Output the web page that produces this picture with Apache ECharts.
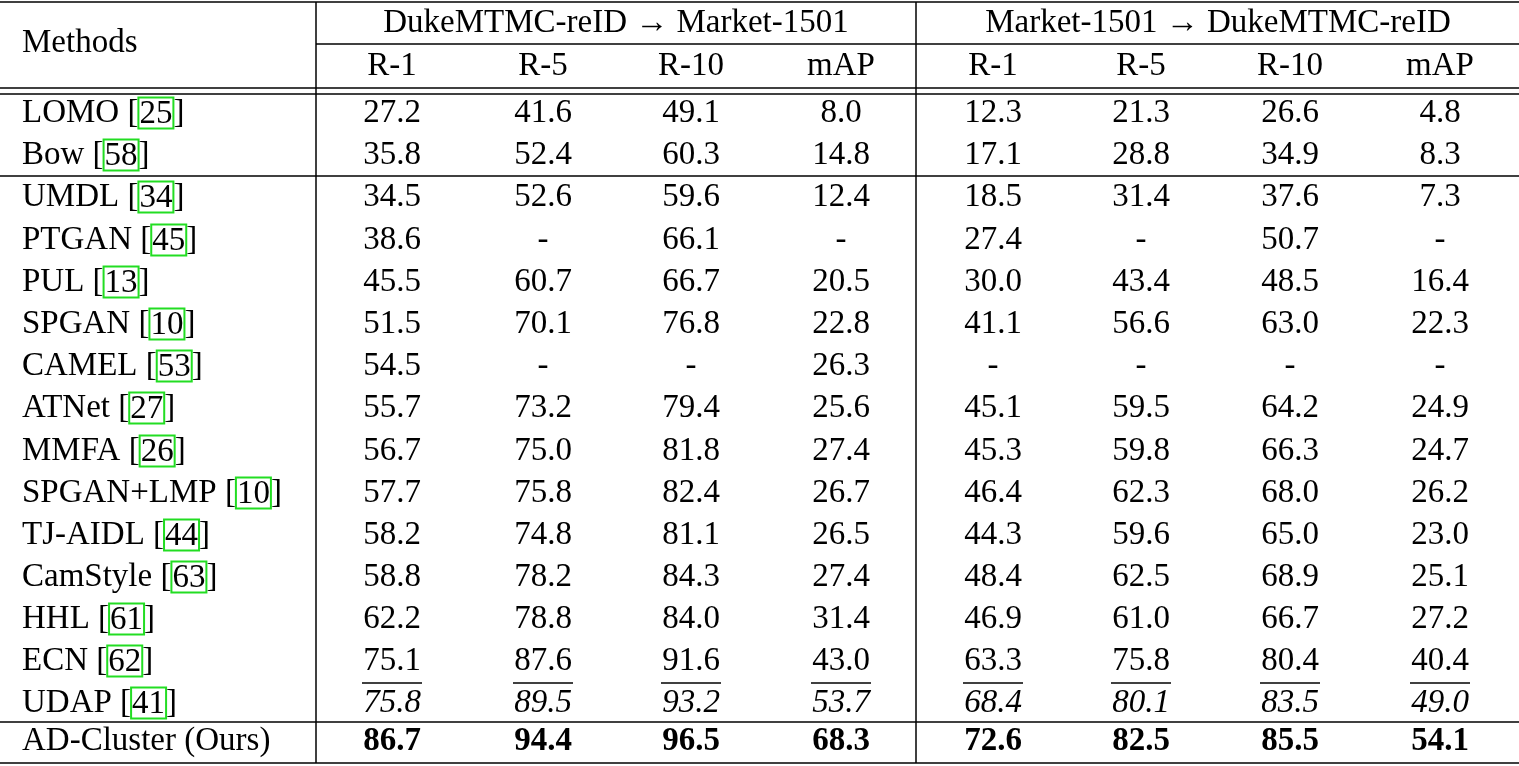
<!DOCTYPE html>
<html><head><meta charset="utf-8">
<script src="https://cdn.jsdelivr.net/npm/echarts@6/dist/echarts.min.js"></script>
<style>html,body{margin:0;padding:0;background:#fff}#c{width:1519px;height:766px}</style>
</head><body><div id="c"></div>
<script>
const groups = ['DukeMTMC-reID \u2192 Market-1501', 'Market-1501 \u2192 DukeMTMC-reID'];
const metrics = ['R-1', 'R-5', 'R-10', 'mAP', 'R-1', 'R-5', 'R-10', 'mAP'];
const methods = ['LOMO', 'Bow', 'UMDL', 'PTGAN', 'PUL', 'SPGAN', 'CAMEL', 'ATNet', 'MMFA', 'SPGAN+LMP', 'TJ-AIDL', 'CamStyle', 'HHL', 'ECN', 'UDAP', 'AD-Cluster (Ours)'];
const refs = ['25', '58', '34', '45', '13', '10', '53', '27', '26', '10', '44', '63', '61', '62', '41', ''];
const values = [
  ['27.2','41.6','49.1','8.0','12.3','21.3','26.6','4.8'],
  ['35.8','52.4','60.3','14.8','17.1','28.8','34.9','8.3'],
  ['34.5','52.6','59.6','12.4','18.5','31.4','37.6','7.3'],
  ['38.6','-','66.1','-','27.4','-','50.7','-'],
  ['45.5','60.7','66.7','20.5','30.0','43.4','48.5','16.4'],
  ['51.5','70.1','76.8','22.8','41.1','56.6','63.0','22.3'],
  ['54.5','-','-','26.3','-','-','-','-'],
  ['55.7','73.2','79.4','25.6','45.1','59.5','64.2','24.9'],
  ['56.7','75.0','81.8','27.4','45.3','59.8','66.3','24.7'],
  ['57.7','75.8','82.4','26.7','46.4','62.3','68.0','26.2'],
  ['58.2','74.8','81.1','26.5','44.3','59.6','65.0','23.0'],
  ['58.8','78.2','84.3','27.4','48.4','62.5','68.9','25.1'],
  ['62.2','78.8','84.0','31.4','46.9','61.0','66.7','27.2'],
  ['75.1','87.6','91.6','43.0','63.3','75.8','80.4','40.4'],
  ['75.8','89.5','93.2','53.7','68.4','80.1','83.5','49.0'],
  ['86.7','94.4','96.5','68.3','72.6','82.5','85.5','54.1']
];
const rowStyle = ['n','n','n','n','n','n','n','n','n','n','n','n','n','u','i','b'];

const W = 1519, H = 766;
const colX = [392, 543, 691, 841, 993, 1141, 1290, 1440];
const rowY = [113,155,197,240,282,324,366,408,451,493,535,577,619,661,703,741];
const FONT = 'Liberation Serif, Times New Roman, serif';
const FS = 33;

const items = [];
items.push({t:'text', x:22, y:43, s:'Methods', a:'left'});
groups.forEach((g,i)=>items.push({t:'text', x: i===0?616:1218, y:23, s:g, a:'center'}));
metrics.forEach((m,i)=>items.push({t:'text', x:colX[i], y:66, s:m, a:'center'}));
methods.forEach((m,r)=>{
  items.push({t:'text', x:22, y:rowY[r], s: refs[r] ? m + ' [{c|' + refs[r] + '}]' : m, a:'left'});
  values[r].forEach((v,c)=>{
    const st = rowStyle[r];
    items.push({t:'text', x:colX[c], y:rowY[r], s:v, a:'center', it: st==='i', b: st==='b'});
    if (st==='u') items.push({t:'line', x1:colX[c]-30, x2:colX[c]+30, y1:rowY[r]+22, y2:rowY[r]+22});
  });
});
[[2,0,W],[44,316,W],[88,0,W],[94,0,W],[176,0,W],[722,0,W],[763,0,W]].forEach(l=>items.push({t:'line',x1:l[1],x2:l[2],y1:l[0],y2:l[0]}));
[316,916].forEach(x=>items.push({t:'line',x1:x,x2:x,y1:2,y2:763}));

const chart = echarts.init(document.getElementById('c'));
chart.setOption({
  animation:false,
  backgroundColor:'#fff',
  grid:{left:0,right:0,top:0,bottom:0},
  xAxis:{type:'value',min:0,max:W,show:false},
  yAxis:{type:'value',min:0,max:H,inverse:true,show:false},
  series:[{
    type:'custom',
    data: items.map((d,i)=>[i]),
    renderItem:(params, api)=>{
      const d = items[api.value(0)];
      if (d.t==='line') {
        const p1 = api.coord([d.x1,d.y1]), p2 = api.coord([d.x2,d.y2]);
        return {type:'line', shape:{x1:p1[0],y1:p1[1],x2:p2[0],y2:p2[1]}, style:{stroke:'#000', lineWidth:1.5}};
      }
      const p = api.coord([d.x,d.y]);
      return {type:'text', x:p[0], y:p[1], style:{
        text:d.s, fill:'#000', font:(d.it?'italic ':'')+(d.b?'bold ':'')+FS+'px '+FONT,
        align:d.a, verticalAlign:'middle',
        rich:{c:{fontSize:FS, fontFamily:FONT, borderColor:'#22dd22', borderWidth:2, padding:[0,1,-2,1], fill:'#000'}}
      }};
    }
  }]
});
</script></body></html>
